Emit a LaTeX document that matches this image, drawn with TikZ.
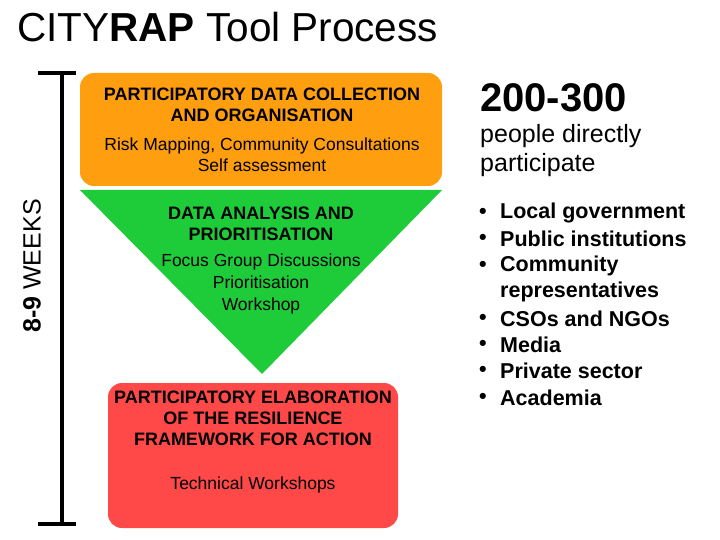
\documentclass[tikz,border=0pt]{standalone}
\usepackage{fontspec}
\setmainfont{Liberation Sans}
\begin{document}
\begin{tikzpicture}[x=1pt,y=-1pt,
  lbl/.style={align=center,font=\fontsize{17.5}{21}\selectfont},
  blbl/.style={align=center,font=\bfseries\fontsize{18}{21}\selectfont},
  bul/.style={anchor=west,font=\bfseries\fontsize{21.5}{26}\selectfont,inner sep=0}]
\useasboundingbox (0,0) rectangle (720,540);
\definecolor{org}{HTML}{FF9E0F}
\definecolor{grn}{HTML}{1ECC3A}
\definecolor{rd}{HTML}{FF4848}
\node[anchor=base west,inner sep=0,font=\fontsize{40.5}{42}\selectfont] (title) at (17,42) {CITY\textbf{RAP} Tool Process};
% timeline
\coordinate (ta) at (62,73); \coordinate (tb) at (62,524);
\draw[line width=4pt] (ta) -- (tb);
\draw[line width=4pt] (38,73) -- (76,73);
\draw[line width=4pt] (38,524) -- (76,524);
\node[rotate=90,font=\fontsize{25}{26}\selectfont] (wk) at (32,266) {\textbf{8-9} WEEKS};
% boxes
\node[fill=org,rounded corners=14pt,minimum width=362pt,minimum height=113pt,inner sep=0] (ob) at (261,129.5) {};
\node[blbl] (o1) at (262,105) {PARTICIPATORY DATA COLLECTION\\AND ORGANISATION};
\node[lbl] (o2) at (262,155) {Risk Mapping, Community Consultations\\Self assessment};
\fill[grn] (80,190) coordinate (g1) -- (442,190) coordinate (g2) -- (262,374) coordinate (g3) -- cycle;
\node[blbl] (g4) at (261,224) {DATA ANALYSIS AND\\PRIORITISATION};
\node[lbl,font=\fontsize{17.5}{22}\selectfont] (g5) at (261,284) {Focus Group Discussions\\Prioritisation\\Workshop};
\node[fill=rd,rounded corners=14pt,minimum width=290pt,minimum height=145pt,inner sep=0] (rb) at (253,455.5) {};
\node[blbl] (r1) at (253,418) {PARTICIPATORY ELABORATION\\OF THE RESILIENCE\\FRAMEWORK FOR ACTION};
\node[lbl] (r2) at (253,485) {Technical Workshops};
% right
\node[anchor=west,inner sep=0,font=\bfseries\fontsize{40}{42}\selectfont] (n) at (480,98) {200-300};
\node[anchor=north west,inner sep=0,align=left,font=\fontsize{25}{29}\selectfont] (p) at (480,124) {people directly\\participate};
\foreach \t/\y [count=\i] in {Local government/213,Public institutions/239,Community/266,CSOs and NGOs/319,Media/345,Private sector/371,Academia/398}{
  \node[bul] (b\i) at (479,\y) {•};
  \node[bul] (t\i) at (500,\y) {\t};
}
\node[bul] (t8) at (500,292) {representatives};
\end{tikzpicture}
\end{document}
